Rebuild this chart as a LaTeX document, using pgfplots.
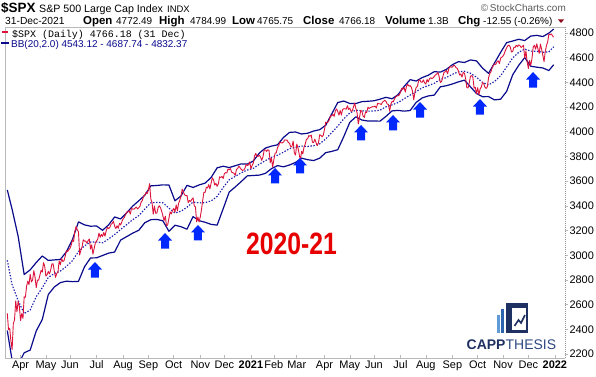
\documentclass[border=0pt]{standalone}
\usepackage{pgfplots}
\usepackage{pgfplotstable}
\pgfplotsset{compat=1.18}
\usepackage{fontspec}
\setmainfont{Liberation Sans}
\newfontfamily\monofont{Liberation Mono}
\definecolor{pricered}{RGB}{220,20,60}
\definecolor{bandnavy}{RGB}{10,10,140}
\definecolor{midblue}{RGB}{30,30,175}
\definecolor{arrowblue}{RGB}{0,40,255}
\definecolor{annred}{RGB}{230,0,0}
\definecolor{framegray}{RGB}{185,185,185}
\definecolor{logonavy}{RGB}{31,48,98}
\definecolor{logoblue}{RGB}{45,72,130}
\definecolor{barlight}{RGB}{95,155,215}
\definecolor{barmid}{RGB}{45,100,175}
\definecolor{chgred}{RGB}{140,10,30}

\pgfdeclareplotmark{uparr}{%
  \pgfpathmoveto{\pgfpoint{0bp}{0bp}}%
  \pgfpathlineto{\pgfpoint{7bp}{-7.5bp}}%
  \pgfpathlineto{\pgfpoint{4bp}{-7.5bp}}%
  \pgfpathlineto{\pgfpoint{4bp}{-15.5bp}}%
  \pgfpathlineto{\pgfpoint{-4bp}{-15.5bp}}%
  \pgfpathlineto{\pgfpoint{-4bp}{-7.5bp}}%
  \pgfpathlineto{\pgfpoint{-7bp}{-7.5bp}}%
  \pgfpathclose
  \pgfusepathqfill}

\pgfplotstableread[row sep=\\]{
x y\\
0 2529\\ 1 2398\\ 2 2409\\ 3 2305\\ 4 2237\\ 5 2447\\ 6 2476\\ 7 2630\\ 8 2541\\ 9 2627\\
10 2585\\ 11 2471\\ 12 2527\\ 13 2489\\ 14 2664\\ 15 2659\\ 16 2750\\ 17 2790\\ 18 2762\\ 19 2846\\
20 2784\\ 21 2800\\ 22 2875\\ 23 2823\\ 24 2737\\ 25 2799\\ 26 2798\\ 27 2837\\ 28 2878\\ 29 2863\\
30 2940\\ 31 2912\\ 32 2831\\ 33 2843\\ 34 2868\\ 35 2849\\ 36 2882\\ 37 2930\\ 38 2930\\ 39 2870\\
40 2820\\ 41 2852\\ 42 2864\\ 43 2954\\ 44 2922\\ 45 2972\\ 46 2949\\ 47 2955\\ 48 2992\\ 49 3036\\
50 3030\\ 51 3044\\ 52 3056\\ 53 3081\\ 54 3123\\ 55 3112\\ 56 3194\\ 57 3232\\ 58 3207\\ 59 3190\\
60 3002\\ 61 3041\\ 62 3067\\ 63 3125\\ 64 3114\\ 65 3115\\ 66 3098\\ 67 3118\\ 68 3131\\ 69 3050\\
70 3084\\ 71 3009\\ 72 3053\\ 73 3100\\ 74 3116\\ 75 3130\\ 76 3180\\ 77 3145\\ 78 3169\\ 79 3152\\
80 3185\\ 81 3155\\ 82 3197\\ 83 3227\\ 84 3216\\ 85 3225\\ 86 3251\\ 87 3257\\ 88 3276\\ 89 3236\\
90 3216\\ 91 3239\\ 92 3218\\ 93 3258\\ 94 3246\\ 95 3271\\ 96 3295\\ 97 3306\\ 98 3327\\ 99 3350\\
100 3351\\ 101 3360\\ 102 3333\\ 103 3380\\ 104 3373\\ 105 3373\\ 106 3382\\ 107 3390\\ 108 3375\\ 109 3385\\
110 3397\\ 111 3431\\ 112 3444\\ 113 3479\\ 114 3485\\ 115 3508\\ 116 3500\\ 117 3527\\ 118 3580\\ 119 3455\\
120 3427\\ 121 3332\\ 122 3399\\ 123 3340\\ 124 3341\\ 125 3384\\ 126 3401\\ 127 3385\\ 128 3357\\ 129 3319\\
130 3281\\ 131 3316\\ 132 3237\\ 133 3247\\ 134 3298\\ 135 3351\\ 136 3335\\ 137 3363\\ 138 3380\\ 139 3348\\
140 3408\\ 141 3361\\ 142 3419\\ 143 3446\\ 144 3477\\ 145 3535\\ 146 3512\\ 147 3489\\ 148 3483\\ 149 3484\\
150 3427\\ 151 3443\\ 152 3436\\ 153 3453\\ 154 3465\\ 155 3401\\ 156 3391\\ 157 3271\\ 158 3310\\ 159 3270\\
160 3310\\ 161 3370\\ 162 3443\\ 163 3510\\ 164 3509\\ 165 3550\\ 166 3545\\ 167 3572\\ 168 3537\\ 169 3585\\
170 3627\\ 171 3610\\ 172 3568\\ 173 3582\\ 174 3558\\ 175 3578\\ 176 3635\\ 177 3630\\ 178 3638\\ 179 3622\\
180 3662\\ 181 3669\\ 182 3666\\ 183 3699\\ 184 3692\\ 185 3702\\ 186 3673\\ 187 3668\\ 188 3663\\ 189 3647\\
190 3695\\ 191 3702\\ 192 3722\\ 193 3709\\ 194 3695\\ 195 3687\\ 196 3690\\ 197 3703\\ 198 3735\\ 199 3727\\
200 3732\\ 201 3756\\ 202 3701\\ 203 3727\\ 204 3748\\ 205 3804\\ 206 3825\\ 207 3799\\ 208 3801\\ 209 3810\\
210 3795\\ 211 3768\\ 212 3798\\ 213 3852\\ 214 3853\\ 215 3841\\ 216 3855\\ 217 3849\\ 218 3750\\ 219 3787\\
220 3714\\ 221 3774\\ 222 3826\\ 223 3830\\ 224 3871\\ 225 3887\\ 226 3915\\ 227 3911\\ 228 3910\\ 229 3917\\
230 3934\\ 231 3933\\ 232 3932\\ 233 3913\\ 234 3907\\ 235 3877\\ 236 3881\\ 237 3925\\ 238 3829\\ 239 3811\\
240 3901\\ 241 3870\\ 242 3820\\ 243 3768\\ 244 3842\\ 245 3821\\ 246 3875\\ 247 3899\\ 248 3939\\ 249 3943\\
250 3969\\ 251 3963\\ 252 3974\\ 253 3915\\ 254 3913\\ 255 3940\\ 256 3911\\ 257 3889\\ 258 3910\\ 259 3975\\
260 3971\\ 261 3959\\ 262 3973\\ 263 4020\\ 264 4078\\ 265 4074\\ 266 4080\\ 267 4097\\ 268 4129\\ 269 4128\\
270 4142\\ 271 4125\\ 272 4170\\ 273 4185\\ 274 4163\\ 275 4135\\ 276 4173\\ 277 4135\\ 278 4180\\ 279 4187\\
280 4186\\ 281 4183\\ 282 4211\\ 283 4181\\ 284 4192\\ 285 4165\\ 286 4168\\ 287 4201\\ 288 4233\\ 289 4189\\
290 4153\\ 291 4063\\ 292 4113\\ 293 4174\\ 294 4164\\ 295 4128\\ 296 4116\\ 297 4160\\ 298 4156\\ 299 4198\\
300 4189\\ 301 4196\\ 302 4200\\ 303 4204\\ 304 4202\\ 305 4208\\ 306 4192\\ 307 4230\\ 308 4227\\ 309 4227\\
310 4220\\ 311 4239\\ 312 4247\\ 313 4255\\ 314 4246\\ 315 4224\\ 316 4222\\ 317 4166\\ 318 4224\\ 319 4246\\
320 4242\\ 321 4266\\ 322 4281\\ 323 4291\\ 324 4291\\ 325 4298\\ 326 4320\\ 327 4352\\ 328 4344\\ 329 4358\\
330 4321\\ 331 4370\\ 332 4385\\ 333 4369\\ 334 4374\\ 335 4360\\ 336 4327\\ 337 4259\\ 338 4323\\ 339 4359\\
340 4368\\ 341 4412\\ 342 4422\\ 343 4402\\ 344 4401\\ 345 4420\\ 346 4395\\ 347 4387\\ 348 4423\\ 349 4403\\
350 4429\\ 351 4437\\ 352 4432\\ 353 4436\\ 354 4448\\ 355 4460\\ 356 4468\\ 357 4480\\ 358 4449\\ 359 4400\\
360 4406\\ 361 4442\\ 362 4480\\ 363 4486\\ 364 4497\\ 365 4470\\ 366 4509\\ 367 4529\\ 368 4523\\ 369 4524\\
370 4537\\ 371 4535\\ 372 4520\\ 373 4514\\ 374 4493\\ 375 4459\\ 376 4469\\ 377 4443\\ 378 4481\\ 379 4474\\
380 4433\\ 381 4358\\ 382 4354\\ 383 4396\\ 384 4449\\ 385 4455\\ 386 4443\\ 387 4353\\ 388 4360\\ 389 4308\\
390 4357\\ 391 4300\\ 392 4346\\ 393 4363\\ 394 4399\\ 395 4391\\ 396 4361\\ 397 4351\\ 398 4364\\ 399 4438\\
400 4471\\ 401 4486\\ 402 4520\\ 403 4536\\ 404 4549\\ 405 4545\\ 406 4567\\ 407 4575\\ 408 4552\\ 409 4596\\
410 4605\\ 411 4613\\ 412 4631\\ 413 4660\\ 414 4680\\ 415 4697\\ 416 4702\\ 417 4686\\ 418 4647\\ 419 4650\\
420 4683\\ 421 4683\\ 422 4701\\ 423 4689\\ 424 4704\\ 425 4698\\ 426 4683\\ 427 4691\\ 428 4701\\ 429 4595\\
430 4655\\ 431 4567\\ 432 4513\\ 433 4577\\ 434 4538\\ 435 4592\\ 436 4686\\ 437 4701\\ 438 4668\\ 439 4712\\
440 4669\\ 441 4635\\ 442 4710\\ 443 4669\\ 444 4621\\ 445 4568\\ 446 4650\\ 447 4697\\ 448 4726\\ 449 4791\\
450 4786\\ 451 4793\\ 452 4778\\ 453 4766\\
}\pricetable

\pgfplotstableread[row sep=\\]{
x l m u\\
0 2390 2959 3529\\ 4 2148 2760 3372\\ 9 2113 2633 3153\\ 14 2210 2527 2844\\ 19 2232 2557 2882\\
24 2387 2664 2941\\ 29 2479 2737 2994\\ 34 2682 2820 2958\\ 39 2743 2852 2962\\ 44 2778 2872 2966\\
49 2790 2909 3028\\ 54 2786 2956 3126\\ 59 2788 3029 3270\\ 64 2906 3076 3246\\ 69 2978 3107 3235\\
74 2979 3108 3237\\ 79 2998 3100 3202\\ 84 3017 3132 3246\\ 89 3026 3168 3310\\ 94 3123 3209 3294\\
99 3151 3248 3344\\ 104 3179 3288 3398\\ 109 3202 3321 3441\\ 114 3263 3374 3486\\ 119 3288 3425 3562\\
124 3290 3428 3565\\ 129 3279 3425 3570\\ 134 3194 3382 3569\\ 139 3243 3342 3441\\ 144 3231 3356 3480\\
149 3211 3389 3566\\ 154 3313 3431 3549\\ 159 3280 3424 3569\\ 164 3267 3426 3584\\ 169 3250 3440 3630\\
174 3244 3476 3708\\ 179 3377 3549 3721\\ 184 3512 3611 3710\\ 189 3553 3639 3725\\ 194 3597 3668 3740\\
199 3643 3690 3738\\ 204 3646 3704 3763\\ 209 3649 3738 3828\\ 214 3663 3766 3868\\ 219 3701 3793 3884\\
224 3726 3810 3894\\ 229 3716 3835 3954\\ 234 3731 3863 3995\\ 239 3752 3875 3998\\ 244 3786 3884 3982\\
249 3774 3881 3988\\ 254 3767 3887 4006\\ 259 3786 3902 4017\\ 264 3831 3942 4053\\ 269 3841 3993 4145\\
274 3855 4046 4237\\ 279 3961 4105 4249\\ 284 4077 4153 4229\\ 289 4121 4175 4229\\ 294 4095 4169 4244\\
299 4087 4167 4247\\ 304 4087 4169 4251\\ 309 4086 4175 4264\\ 314 4125 4202 4279\\ 319 4169 4218 4267\\
324 4173 4237 4301\\ 329 4167 4267 4367\\ 334 4172 4297 4422\\ 339 4238 4325 4411\\ 344 4274 4356 4439\\
349 4290 4374 4458\\ 354 4297 4392 4487\\ 359 4364 4424 4483\\ 364 4373 4439 4505\\ 369 4387 4465 4543\\
374 4404 4486 4568\\ 379 4418 4490 4561\\ 384 4364 4474 4582\\ 389 4310 4442 4574\\ 394 4284 4400 4516\\
399 4285 4379 4473\\ 404 4258 4408 4558\\ 409 4264 4453 4643\\ 414 4327 4525 4722\\ 419 4461 4598 4735\\
424 4538 4643 4749\\ 429 4601 4670 4739\\ 434 4531 4653 4775\\ 439 4523 4652 4781\\ 444 4517 4644 4771\\
449 4496 4647 4799\\ 453 4543 4688 4832\\
}\bbtable

\begin{document}
\begin{tikzpicture}[x=1bp,y=1bp]
\path[use as bounding box] (0,0) rectangle (596,376);
\begin{axis}[
  name=main,
  at={(5bp,18bp)}, anchor=south west, scale only axis,
  width=560bp, height=331bp,
  xmin=-1.9, xmax=462.4, ymin=2167.6, ymax=4848.6,
  axis line style={draw=none},
  xtick={11,32,52,74,96,117,138,160,180,202,221,240,263,284,304,326,347,369,390,411,432,454},
  xticklabels={Apr,May,Jun,Jul,Aug,Sep,Oct,Nov,Dec,\textbf{2021},Feb,Mar,Apr,May,Jun,Jul,Aug,Sep,Oct,Nov,Dec,\textbf{2022}},
  ytick={2200,2400,...,4800},
  xtick pos=left, ytick pos=right, yticklabel pos=right, xticklabel pos=left,
  xtick align=inside, ytick align=outside,
  major tick length=3bp,
  tick style={framegray, line width=0.6bp},
  ticklabel style={font=\fontsize{11}{12}\selectfont, text=black},
  /pgf/number format/assume math mode=true,
  /pgf/number format/1000 sep={},
  yticklabel style={anchor=west, xshift=-2bp},
  xticklabel style={anchor=north, yshift=1bp},
]
\addplot[bandnavy, line width=1.2bp, line join=round] table[x=x, y=u] {\bbtable};
\addplot[bandnavy, line width=1.2bp, line join=round] table[x=x, y=l] {\bbtable};
\addplot[midblue, line width=1.15bp, dash pattern=on 1.4bp off 1.6bp] table[x=x, y=m] {\bbtable};
\addplot[pricered, line width=0.9bp, line join=round] table[x=x, y=y] {\pricetable};
\addplot[only marks, mark=uparr, arrowblue, mark options={fill=arrowblue, draw=none}] coordinates {
 (72.7,2945) (130.8,3180) (158.1,3245) (222,3707) (242.7,3788)
 (293.3,4055) (319.8,4136) (342.2,4241) (391.9,4265) (435.9,4484)};
\end{axis}
% frame
\draw[framegray, line width=0.6bp] (main.north west) -- (main.south west) -- (main.south east);
\draw[framegray, line width=0.6bp] (main.north west) -- (main.north east);
\draw[framegray!80!black, line width=0.6bp, dash pattern=on 1bp off 1bp] (main.south east) -- (main.north east);

% header
\node[anchor=base west, inner sep=0, font=\fontsize{13.5}{14}\selectfont\bfseries] at (1,363.5) {\$SPX};
\node[anchor=base west, inner sep=0, font=\fontsize{10.7}{12}\selectfont] at (39,364) {S\&P 500 Large Cap Index};
\node[anchor=base west, inner sep=0, font=\fontsize{9.5}{11}\selectfont] at (167,364) {INDX};
\node[anchor=base east, inner sep=0, font=\fontsize{10}{11}\selectfont, text=black!65] at (566,365) {\textcopyright\,StockCharts.com};

\node[anchor=base west, inner sep=0, font=\fontsize{10.3}{11}\selectfont] at (5,352) {31-Dec-2021};
\node[anchor=base west, inner sep=0, font=\fontsize{11.5}{12}\selectfont\bfseries] at (83,352) {Open};
\node[anchor=base west, inner sep=0, font=\fontsize{10}{11}\selectfont] at (116,352) {4772.49};
\node[anchor=base west, inner sep=0, font=\fontsize{11.5}{12}\selectfont\bfseries] at (159,352) {High};
\node[anchor=base west, inner sep=0, font=\fontsize{10}{11}\selectfont] at (190,352) {4784.99};
\node[anchor=base west, inner sep=0, font=\fontsize{11.5}{12}\selectfont\bfseries] at (232,352) {Low};
\node[anchor=base west, inner sep=0, font=\fontsize{10}{11}\selectfont] at (257,352) {4765.75};
\node[anchor=base west, inner sep=0, font=\fontsize{11.5}{12}\selectfont\bfseries] at (303,352) {Close};
\node[anchor=base west, inner sep=0, font=\fontsize{10}{11}\selectfont] at (339,352) {4766.18};
\node[anchor=base west, inner sep=0, font=\fontsize{11.5}{12}\selectfont\bfseries] at (385,352) {Volume};
\node[anchor=base west, inner sep=0, font=\fontsize{10}{11}\selectfont] at (428,352) {1.3B};
\node[anchor=base west, inner sep=0, font=\fontsize{11.5}{12}\selectfont\bfseries] at (458,352) {Chg};
\node[anchor=base west, inner sep=0, font=\fontsize{10}{11}\selectfont] at (483,352) {-12.55 (-0.26\%)};
\fill[chgred] (558,356.5) -- (564,356.5) -- (561,353) -- cycle;

% legend
\draw[pricered, line width=2bp] (2,344) -- (8,344);
\node[anchor=base west, inner sep=0, font=\monofont\fontsize{10}{11}\selectfont] at (12,339) {\$SPX (Daily) 4766.18 (31 Dec)};
\draw[bandnavy, line width=2bp] (1,333) -- (9,333);
\node[anchor=base west, inner sep=0, font=\fontsize{10}{11}\selectfont, text=bandnavy] at (11,329) {BB(20,2.0) 4543.12 - 4687.74 - 4832.37};

% annotation
\node[font=\fontsize{31}{32}\selectfont\bfseries, text=annred, xscale=0.8, inner sep=0] at (291.5,132) {2020-21};

% logo
\fill[barlight] (496.7,43) rectangle (500,61);
\fill[barmid] (501,43) rectangle (504.3,67);
\fill[logonavy] (505.7,43) rectangle (528.3,73);
\fill[white] (512,46) rectangle (526,68);
\draw[logonavy, line width=1.6bp, line join=miter] (514.5,50) -- (518.5,56) -- (521,53) -- (525,61);
\node[anchor=base west, inner sep=0, font=\fontsize{14}{15}\selectfont\bfseries, text=logonavy] at (466.5,27) {CAPP};
\node[anchor=base west, inner sep=0, font=\fontsize{14}{15}\selectfont, text=logoblue] at (505.5,27) {THESIS};
\end{tikzpicture}
\end{document}
